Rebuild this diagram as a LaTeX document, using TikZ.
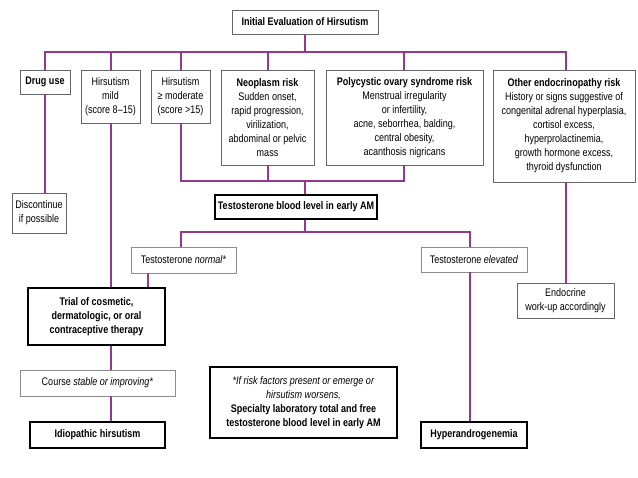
\documentclass[tikz,border=0pt]{standalone}
\usepackage{fontspec}
\setmainfont{Liberation Sans}[FakeStretch=0.82]
\definecolor{lnc}{RGB}{150,55,145}
\begin{document}
\begin{tikzpicture}[x=1pt,y=-1pt,
  b/.style={draw=black!60,line width=0.8pt,fill=white,align=center,inner sep=1pt,font=\fontsize{11}{14}\selectfont},
  bb/.style={b,draw=black,line width=1.3pt},
  lb/.style={b,draw=black!45},
  ln/.style={draw=lnc,line width=1.2pt}]
\useasboundingbox (0,0) rectangle (638,478);
\def\bx#1#2#3#4#5#6{\node[#1,minimum width=#4-#2,minimum height=#5-#3] (#6) at ({(#2+#4)/2},{(#3+#5)/2})}
\bx{b}{232}{10}{378}{34}{init} {\textbf{Initial Evaluation of Hirsutism}};
\bx{b}{20}{70}{70}{94}{drug} {\textbf{Drug use}};
\bx{b}{81}{70}{140}{123}{mild} {Hirsutism\\mild\\(score 8--15)};
\bx{b}{151}{70}{210}{123}{mod} {Hirsutism\\≥ moderate\\(score >15)};
\bx{b}{221}{70}{314}{165}{neo} {\textbf{Neoplasm risk}\\Sudden onset,\\rapid progression,\\virilization,\\abdominal or pelvic\\mass};
\bx{b}{326}{70}{483}{165}{pcos} {\textbf{Polycystic ovary syndrome risk}\\Menstrual irregularity\\or infertility,\\acne, seborrhea, balding,\\central obesity,\\acanthosis nigricans};
\bx{b}{493}{70}{635}{182}{oth} {\textbf{Other endocrinopathy risk}\\History or signs suggestive of\\congenital adrenal hyperplasia,\\cortisol excess,\\hyperprolactinemia,\\growth hormone excess,\\thyroid dysfunction};
\bx{b}{12}{193}{66}{233}{disc} {Discontinue\\if possible};
\bx{bb}{215}{195}{377}{219}{test} {\textbf{Testosterone blood level in early AM}};
\bx{lb}{131}{247}{236}{273}{norm} {Testosterone \textit{normal*}};
\bx{lb}{421}{247}{527}{272}{elev} {Testosterone \textit{elevated}};
\bx{b}{517}{283}{614}{318}{endo} {Endocrine\\work-up accordingly};
\bx{bb}{28}{288}{165}{345}{trial} {\textbf{Trial of cosmetic,}\\\textbf{dermatologic, or oral}\\\textbf{contraceptive therapy}};
\bx{lb}{20}{370}{175}{396}{course} {Course \textit{stable or improving*}};
\bx{bb}{30}{422}{165}{448}{idio} {\textbf{Idiopathic hirsutism}};
\bx{bb}{210}{367}{397}{438}{note} {\textit{*If risk factors present or emerge or}\\\textit{hirsutism worsens,}\\\textbf{Specialty laboratory total and free}\\\textbf{testosterone blood level in early AM}};
\bx{bb}{421}{422}{527}{448}{hyper} {\textbf{Hyperandrogenemia}};
% connectors
\coordinate (t1) at (305,52);
\draw[ln] (init.south) -- (t1);
\draw[ln] (drug.north -| 45,0) |- (566,52) -- (oth.north -| 566,0);
\draw[ln] (111,52) -- (mild.north -| 111,0);
\draw[ln] (181,52) -- (mod.north -| 181,0);
\draw[ln] (268,52) -- (neo.north -| 268,0);
\draw[ln] (404,52) -- (pcos.north -| 404,0);
\draw[ln] (drug.south -| 45,0) -- (disc.north -| 45,0);
\draw[ln] (mod.south -| 181,0) |- (404,181) -- (pcos.south -| 404,0);
\draw[ln] (neo.south -| 268,0) -- (268,181);
\draw[ln] (305,181) -- (test.north -| 305,0);
\draw[ln] (test.south -| 305,0) -- (305,232);
\draw[ln] (norm.north -| 181,0) |- (470,232) -- (elev.north -| 470,0);
\draw[ln] (elev.south -| 470,0) -- (hyper.north -| 470,0);
\draw[ln] (oth.south -| 566,0) -- (endo.north -| 566,0);
\draw[ln] (norm.south -| 148,0) -- (trial.north -| 148,0);
\draw[ln] (mild.south -| 111,0) -- (trial.north -| 111,0);
\draw[ln] (trial.south -| 111,0) -- (course.north -| 111,0);
\draw[ln] (course.south -| 111,0) -- (idio.north -| 111,0);
\end{tikzpicture}
\end{document}
